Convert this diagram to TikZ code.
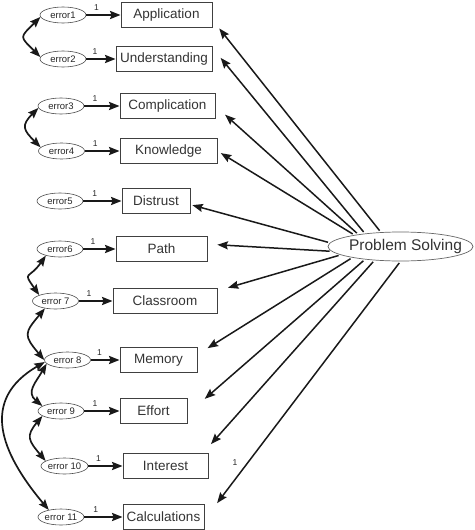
\documentclass[tikz,border=0pt]{standalone}
\usepackage{fontspec}
\setmainfont{Liberation Sans}
\usetikzlibrary{arrows.meta,shapes.geometric}

\begin{document}
\begin{tikzpicture}[x=1pt,y=1pt,
    >={Stealth[length=10.5pt,width=8pt,inset=1.5pt]},
    obs/.style={draw=black!75,line width=0.8pt,minimum height=25pt,inner sep=0pt,text=black!80,font=\fontsize{13.5}{15}\selectfont},
    err/.style={ellipse,draw=black!70,line width=0.6pt,minimum width=46pt,minimum height=16pt,inner sep=0pt,text=black!85,font=\fontsize{9.5}{10}\selectfont},
    factor/.style={ellipse,draw=black!60,line width=0.7pt,minimum width=145pt,minimum height=29pt,inner sep=0pt,text=black!80,font=\fontsize{15.5}{17}\selectfont},
    one/.style={inner sep=1pt,text=black!85,font=\fontsize{8.5}{9}\selectfont},
    fixed/.style={->,line width=2.2pt,black!90},
    loading/.style={->,line width=1.5pt,black!90,shorten <=2pt},
    covar/.style={<->,line width=1.7pt,black!90}]
        \useasboundingbox (0,0) rectangle (474,-530);
        \node[factor] (ps) at (400.5,-246.5) {\makebox[70pt]{\hspace{10pt}Problem Solving}};
        % error terms and indicators
        \foreach \n/\ex/\y/\etxt/\vx/\vw/\vtxt in {
            1/63/15/error1/166.5/91/Application,
            2/63/59/error2/164/96/Understanding,
            3/61/106/error3/167.5/95/Complication,
            4/61.5/151/error4/168.5/97/Knowledge,
            5/60/201/error5/156/68/Distrust,
            6/60/249/error6/161.5/91/Path,
            7/55.5/301/error 7/165/104/Classroom,
            8/67.5/360/error 8/158.5/77/Memory,
            9/61/411/error 9/153.5/67/Effort,
            10/64.5/466/error 10/165.5/85/Interest,
            11/61/517/error 11/163.5/81/Calculations}{
            \node[err] (e\n) at (\ex,-\y) {\etxt};
            \node[obs,minimum width=\vw pt] (v\n) at (\vx,-\y) {\vtxt};
            \draw[fixed] (e\n) -- node[one,above=2pt,pos=0.3] (o\n) {1} (v\n);
        }
        % loadings
        \foreach \n/\a/\b/\s in {1/144/-6/11, 2/160/13/13, 3/164/0/13, 4/166/0/4, 5/177/-6/2, 6/184/6/10,
            7/188/11/11, 8/193/8/12, 9/200/-5/23, 10/208/19/12, 11/270/-4/21}{
            \draw[loading,shorten >=\s pt] (ps.\a) -- (v\n.\b);
        }
        \node[one] (w11) at (235,-463) {1};
        % covariances
        \draw[covar] (e1.185) to[out=225,in=135,looseness=1.9] (e2.175);
        \draw[covar] (e3.185) to[out=225,in=135,looseness=1.6] (e4.170);
        \draw[covar] (e6.205) to[out=235,in=125,looseness=1.9] (e7.160);
        \draw[covar] (e7.215) to[out=230,in=130,looseness=1.6] (e8.180);
        \draw[covar] (e8.190) to[out=240,in=140,looseness=1.3] (e9.165);
        \draw[covar] (e9.195) to[out=230,in=130,looseness=1.5] (e10.165);
        \draw[covar] (e8.185) to[out=210,in=130,looseness=1.3] (e11.150);
    \end{tikzpicture}
\end{document}
